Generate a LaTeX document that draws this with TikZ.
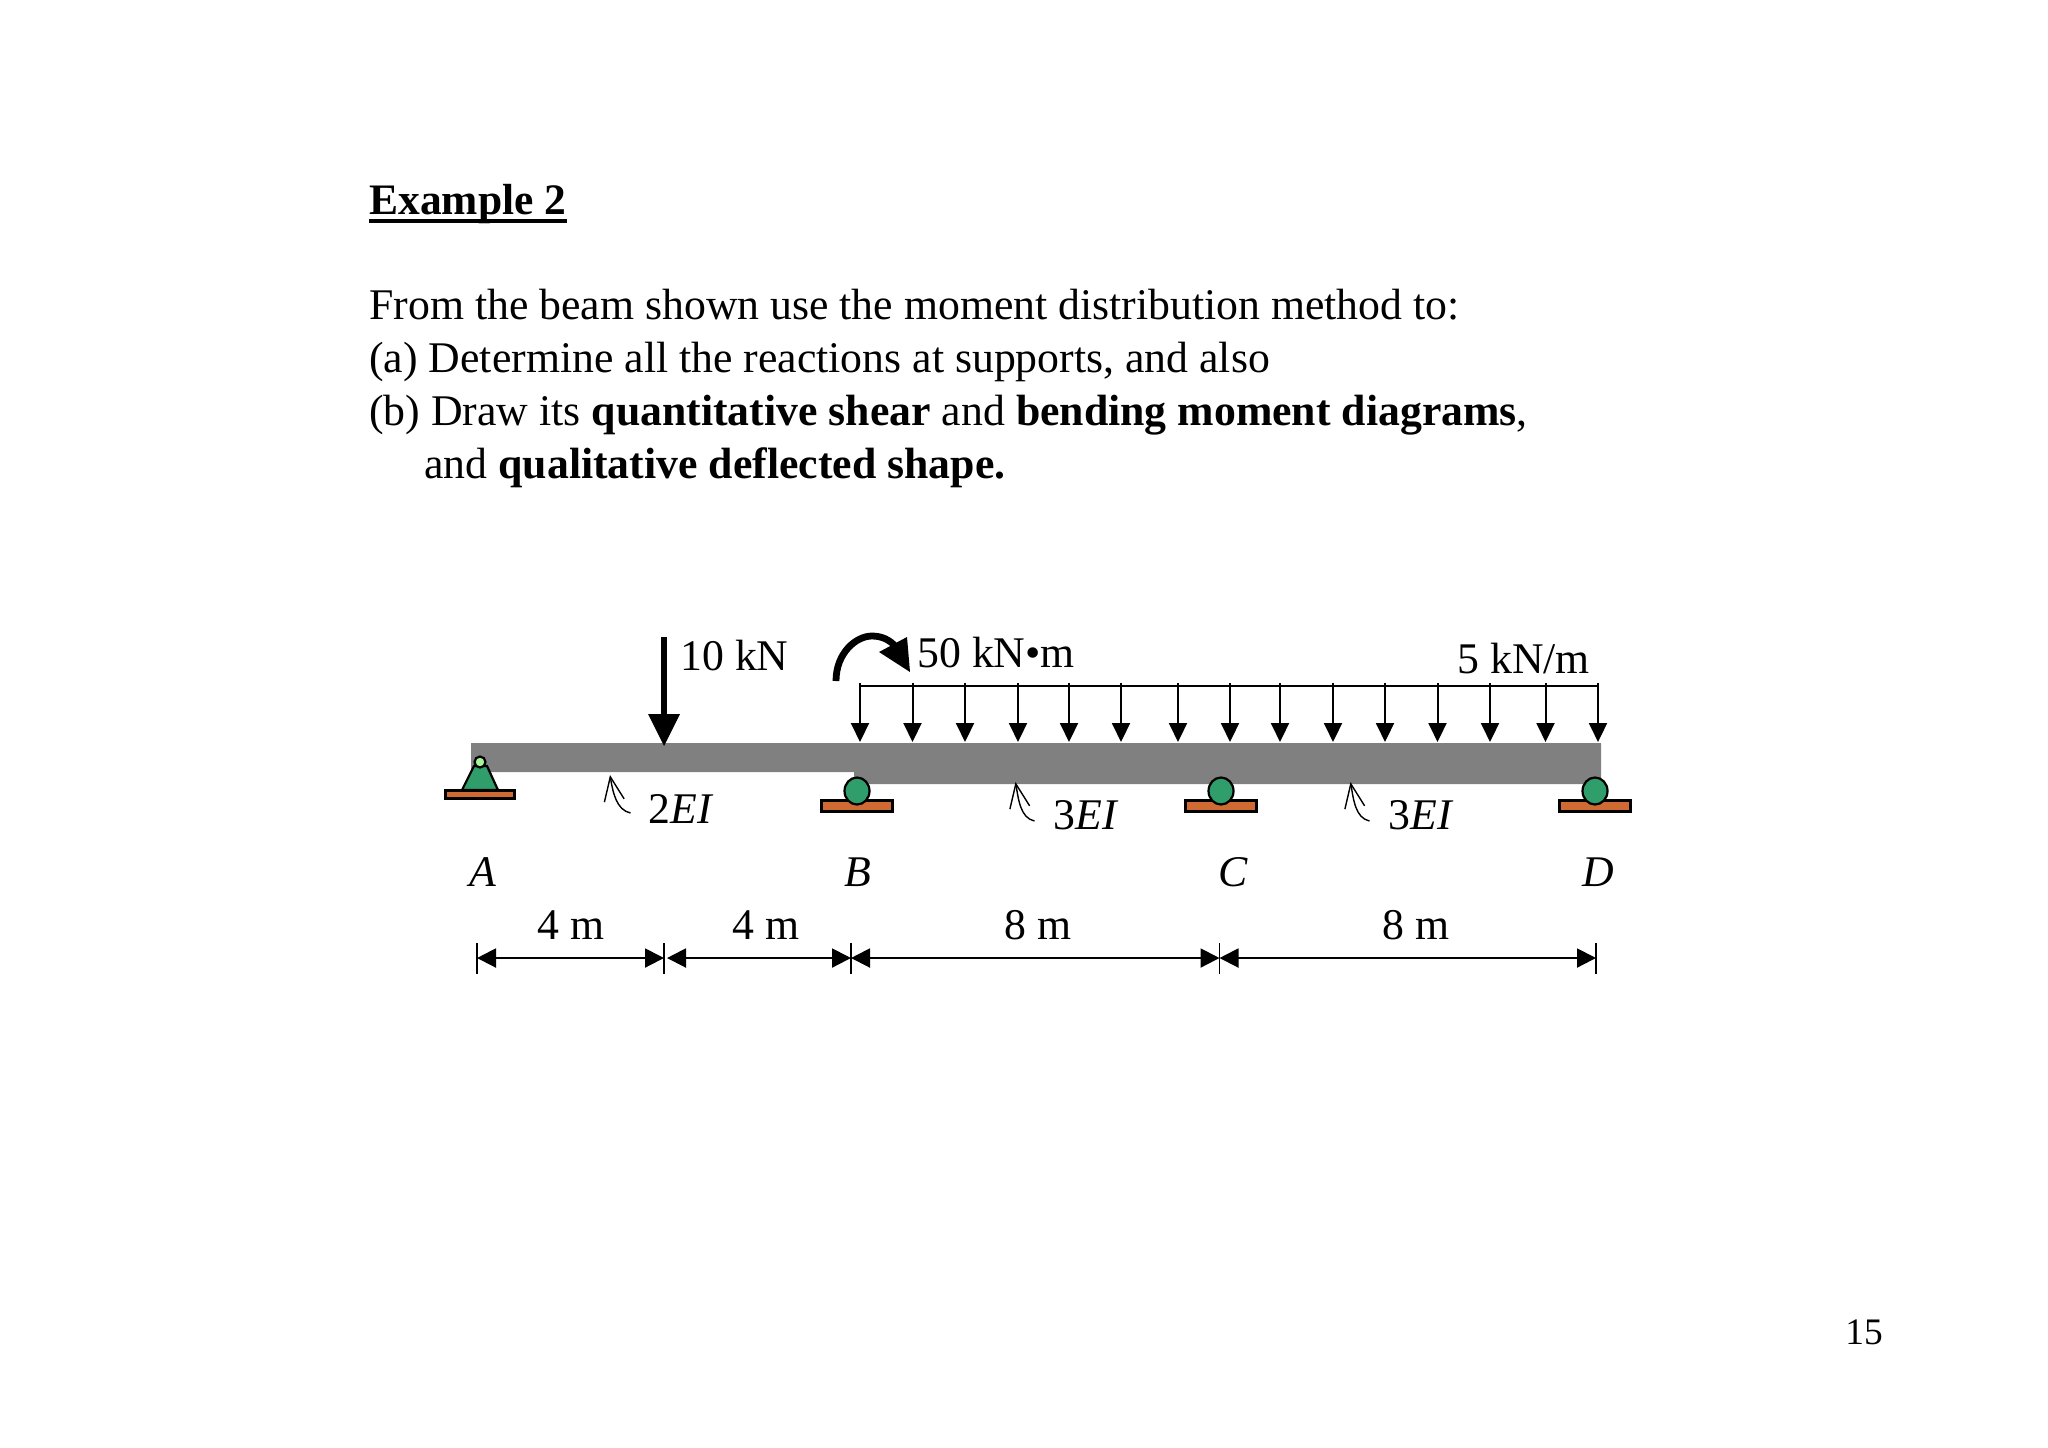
\documentclass[tikz,border=0pt]{standalone}
\usepackage{fontspec}
\setmainfont{Liberation Serif}
\usetikzlibrary{arrows.meta,shapes.geometric}
\definecolor{beamgray}{HTML}{808080}
\definecolor{platebrown}{HTML}{CF6A33}
\definecolor{rollgreen}{HTML}{2F9E6A}
\definecolor{pinlight}{HTML}{A6F59A}
\tikzset{
    txt/.style={anchor=base west,inner sep=0pt,font=\fontsize{21.88}{26}\selectfont},
    plate/.style={draw,line width=1.1pt,fill=platebrown,minimum width=35.5pt,minimum height=5.5pt,inner sep=0pt},
    roller/.style={draw,line width=1.1pt,fill=rollgreen,ellipse,minimum width=12.5pt,minimum height=13.5pt,inner sep=0pt},
    udl/.style={line width=1pt,-{Triangle[length=9.5pt,width=9pt]}},
    dim/.style={line width=1pt,{Triangle[length=9.5pt,width=9.5pt]}-{Triangle[length=9.5pt,width=9.5pt]}},
    pointer/.style={line width=0.7pt,-{Straight Barb[length=12pt,width=10pt]}}
}
\begin{document}
\begin{tikzpicture}[x=0.5pt,y=-0.5pt]
    \useasboundingbox (0,0) rectangle (2048,1447);
    \node[txt,font=\fontsize{21.75}{26}\selectfont\bfseries] (title) at (369,214) {Example 2};
    \draw[line width=1.9pt] ([yshift=-3.6pt]title.base west) -- ([yshift=-3.6pt]title.base east);
    \node[txt] (line1) at (369,319) {From the beam shown use the moment distribution method to:};
    \node[txt] (line2) at (369,372) {(a) Determine all the reactions at supports, and also};
    \node[txt] (line3) at (369,425) {(b) Draw its \textbf{quantitative shear} and \textbf{bending moment diagrams},};
    \node[txt] (line4) at (424,478) {and \textbf{qualitative deflected shape.}};
    \fill[beamgray] (471,743) -- (1601,743) -- (1601,784) -- (854,784) -- (854,772) -- (471,772) -- cycle;
    \draw[line width=1.1pt,fill=rollgreen] (462,790) -- (474,766) -- (487,766) -- (498,790) -- cycle;
    \node[draw,line width=1.1pt,fill=pinlight,circle,minimum size=5.5pt,inner sep=0pt] (pinA) at (480,762) {};
    \node[plate,minimum width=34.5pt,minimum height=4pt] (plateA) at (480,794.5) {};
    \foreach \name/\x in {B/857,C/1221,D/1595}
    {
        \node[plate] (plate\name) at (\x,806) {};
        \node[roller] (roll\name) at (\x,791) {};
    }
    \draw[line width=3.4pt] (664,637) -- (664,716);
    \fill (648,714) -- (680,714) -- (664,746) -- cycle;
    \node[txt] (force) at (680,670) {10 kN};
    \draw[line width=3.4pt] (836,681) .. controls (836,653) and (856,636) .. (872,636) .. controls (882,636) and (890,640) .. (896,647);
    \fill (910,672) -- (907,637) -- (879,652) -- cycle;
    \node[txt] (couple) at (917,667) {50 kN•m};
    \node[txt] (load) at (1457,673) {5 kN/m};
    \draw[line width=1pt] (860,686) -- (1598,686);
    \foreach \x in {860,912.5,965,1018,1069,1121,1178,1230,1280,1333,1385,1437.5,1490,1545.5,1598}
        \draw[udl] (\x,683) -- (\x,742);
    \node[txt] (eiAB) at (648,823) {2\textit{EI}};
    \node[txt] (eiBC) at (1053,829) {3\textit{EI}};
    \node[txt] (eiCD) at (1388,829) {3\textit{EI}};
    \coordinate (tailAB) at (630.5,813);
    \coordinate (tipAB) at (610,775);
    \coordinate (tailBC) at (1034.5,821);
    \coordinate (tipBC) at (1015.5,782);
    \coordinate (tailCD) at (1369.5,821);
    \coordinate (tipCD) at (1350.5,782);
    \foreach \s in {AB,BC,CD}
        \draw[pointer] (tail\s) .. controls +(-14,-3) and +(3,18) .. (tip\s);
    \node[txt,font=\fontsize{21.88}{26}\selectfont\itshape] (labA) at (469,886) {A};
    \node[txt,font=\fontsize{21.88}{26}\selectfont\itshape] (labB) at (844,886) {B};
    \node[txt,font=\fontsize{21.88}{26}\selectfont\itshape] (labC) at (1218,886) {C};
    \node[txt,font=\fontsize{21.88}{26}\selectfont\itshape] (labD) at (1582,886) {D};
    \foreach \i/\x in {1/477,2/664,3/851,4/1219.5,5/1596}
    {
        \coordinate (dimtop\i) at (\x,943);
        \coordinate (dimbot\i) at (\x,974);
        \coordinate (dim\i) at (\x,958);
        \draw[line width=0.7pt] (dimtop\i) -- (dimbot\i);
    }
    \draw[dim] (dim1) -- (dim2);
    \draw[dim] ([xshift=1.5pt]dim2) -- (dim3);
    \draw[dim] (dim3) -- (dim4);
    \draw[dim] (dim4) -- (dim5);
    \node[txt,anchor=base] (span1) at (571,939) {4 m};
    \node[txt,anchor=base] (span2) at (766,939) {4 m};
    \node[txt,anchor=base] (span3) at (1038,939) {8 m};
    \node[txt,anchor=base] (span4) at (1416,939) {8 m};
    \node[txt,font=\fontsize{18.7}{22}\selectfont] (pagenum) at (1845,1344) {15};
\end{tikzpicture}
\end{document}
